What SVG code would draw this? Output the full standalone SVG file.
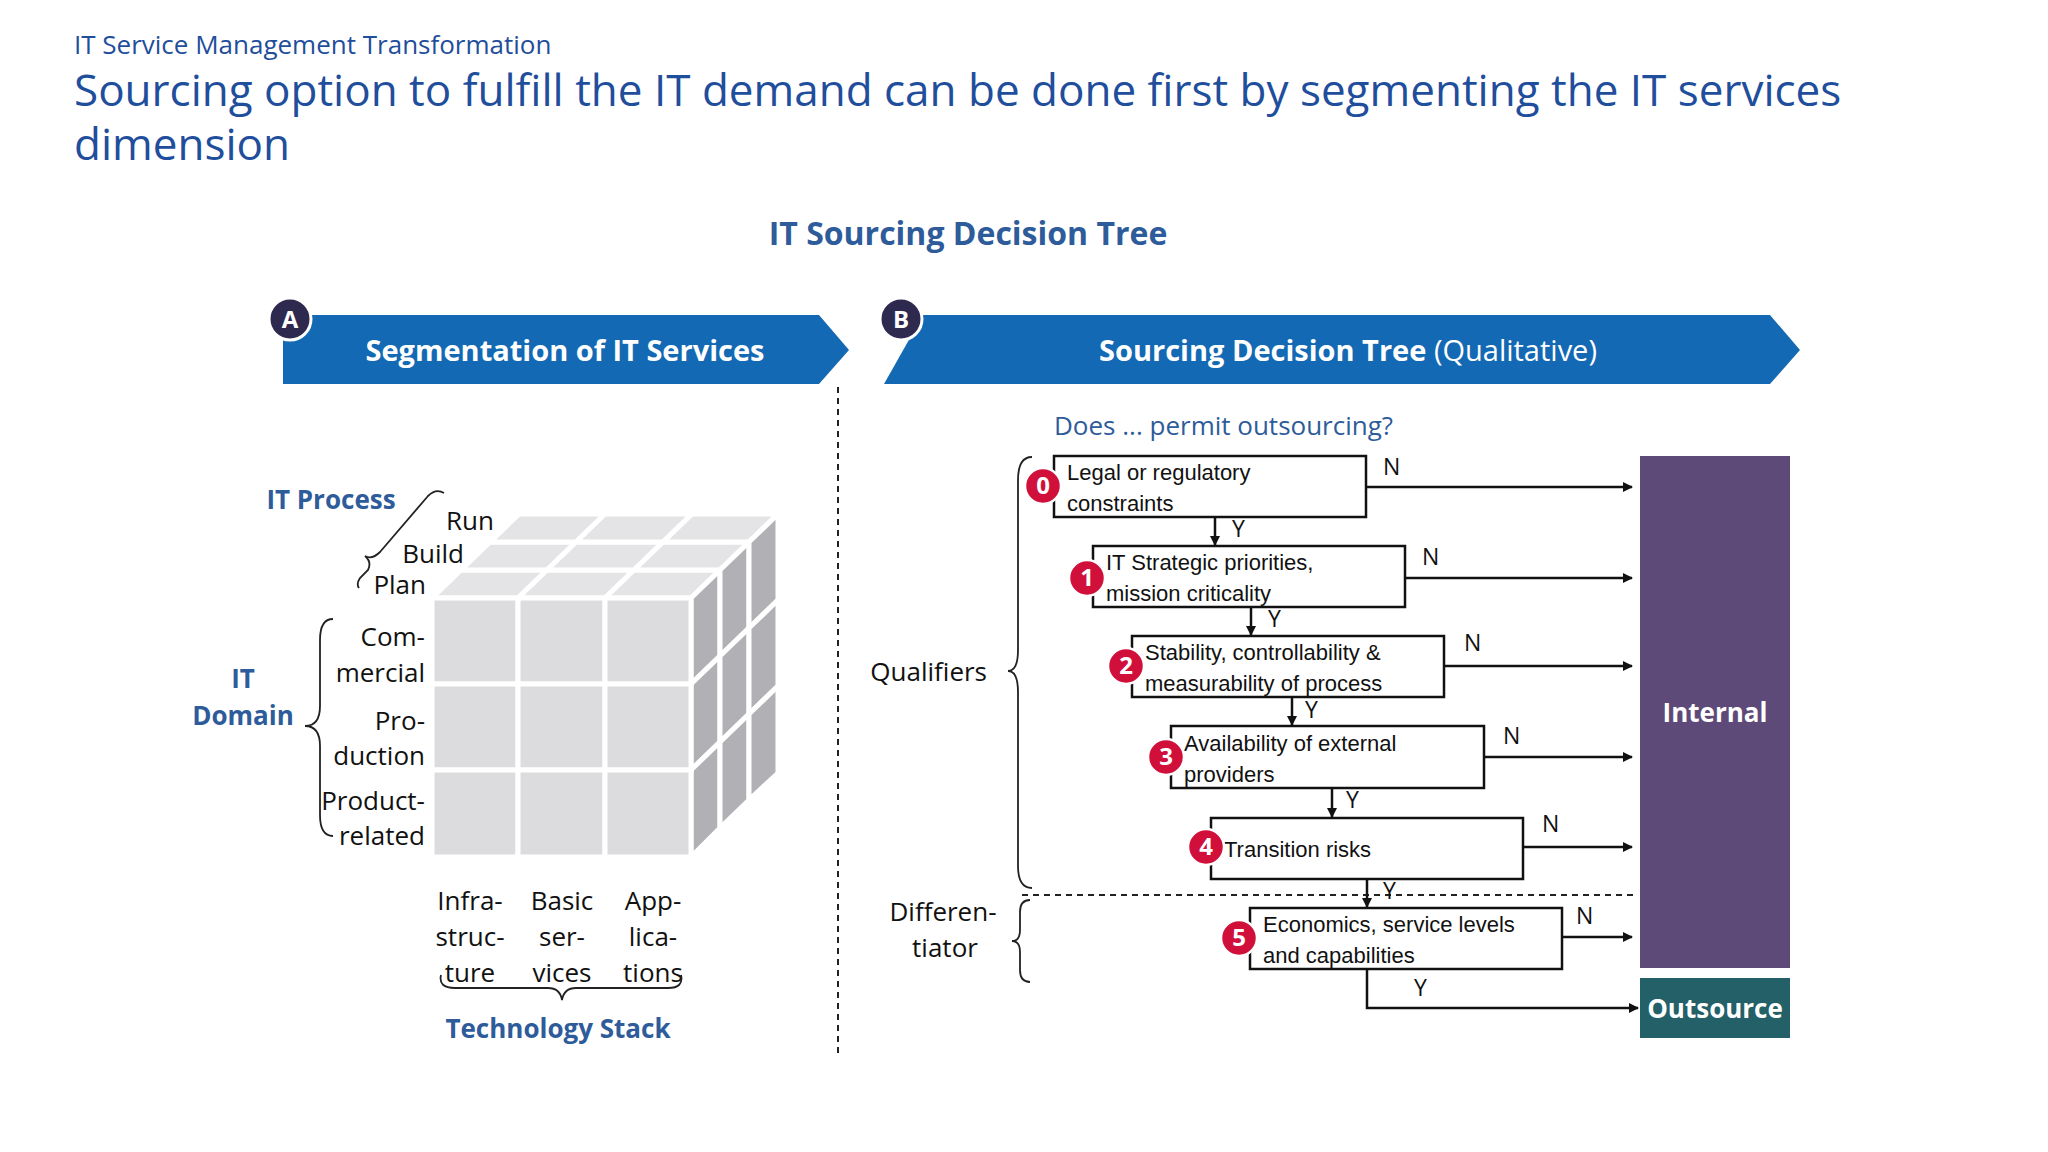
<svg xmlns="http://www.w3.org/2000/svg" width="2048" height="1152" viewBox="0 0 2048 1152">
<style>
text{font-family:"Open Sans","Liberation Sans",sans-serif}
.blue{fill:#1f4e9c}
.lab{fill:#2e5c9a;font-weight:bold;font-size:26px}
.blk{fill:#111;font-size:26px}
.bx{fill:#fff;stroke:#111;stroke-width:2.5}
.bt{fill:#111;font-size:22px;font-family:"Liberation Sans",sans-serif}
.ln{stroke:#111;stroke-width:2.5;fill:none}
.br{stroke:#222;stroke-width:1.8;fill:none}
.bd{fill:#d0103a;stroke:#fff;stroke-width:2.5}
.bdt{fill:#fff;font-weight:bold;font-size:24px;text-anchor:middle}
.f{fill:#dcdcdf;stroke:#fff;stroke-width:5}
.t{fill:#e4e4e7;stroke:#fff;stroke-width:5}
.s{fill:#b1b1b5;stroke:#fff;stroke-width:5}
.yn{fill:#111;font-size:23px}
</style>
<defs><marker id="ah" markerWidth="10" markerHeight="10" refX="9" refY="5" orient="auto" markerUnits="userSpaceOnUse"><path d="M0,0 L10,5 L0,10 z" fill="#111"/></marker></defs>
<rect width="2048" height="1152" fill="#fff"/>
<text x="74" y="54" class="blue" font-size="26">IT Service Management Transformation</text>
<text x="74" y="106" class="blue" font-size="44">Sourcing option to fulfill the IT demand can be done first by segmenting the IT services</text>
<text x="74" y="160" class="blue" font-size="44">dimension</text>
<text x="968" y="245" text-anchor="middle" font-size="32" font-weight="bold" fill="#2e5c9a">IT Sourcing Decision Tree</text>

<g id="bannerA">
<polygon points="283,315 819,315 849,350 819,384 283,384" fill="#1369b3"/>
<text x="565" y="361" text-anchor="middle" fill="#fff" font-weight="bold" font-size="29">Segmentation of IT Services</text>
<circle cx="290" cy="319" r="21" fill="#2e2a4f" stroke="#fff" stroke-width="3"/>
<text x="290" y="328" text-anchor="middle" fill="#fff" font-weight="bold" font-size="24">A</text>
</g>
<g id="bannerB">
<polygon points="923,315 1770,315 1800,350 1770,384 884,384" fill="#1369b3"/>
<text x="1348" y="361" text-anchor="middle" fill="#fff" font-size="29"><tspan font-weight="bold">Sourcing Decision Tree</tspan> (Qualitative)</text>
<circle cx="901" cy="319" r="21" fill="#2e2a4f" stroke="#fff" stroke-width="3"/>
<text x="901" y="328" text-anchor="middle" fill="#fff" font-weight="bold" font-size="24">B</text>
</g>
<line x1="838" y1="387" x2="838" y2="1058" stroke="#222" stroke-width="2" stroke-dasharray="6,5"/>

<g id="cube">
<polygon class="t" points="432,598 518,598 547,570 461,570"/>
<polygon class="t" points="518,598 605,598 634,570 547,570"/>
<polygon class="t" points="605,598 691,598 720,570 634,570"/>
<polygon class="t" points="461,570 547,570 576,542 490,542"/>
<polygon class="t" points="547,570 634,570 663,542 576,542"/>
<polygon class="t" points="634,570 720,570 749,542 663,542"/>
<polygon class="t" points="490,542 576,542 605,514 519,514"/>
<polygon class="t" points="576,542 663,542 692,514 605,514"/>
<polygon class="t" points="663,542 749,542 778,514 692,514"/>
<polygon class="s" points="691,598 720,570 720,656 691,684"/>
<polygon class="s" points="720,570 749,542 749,628 720,656"/>
<polygon class="s" points="749,542 778,514 778,600 749,628"/>
<polygon class="s" points="691,684 720,656 720,742 691,770"/>
<polygon class="s" points="720,656 749,628 749,714 720,742"/>
<polygon class="s" points="749,628 778,600 778,686 749,714"/>
<polygon class="s" points="691,770 720,742 720,828 691,857"/>
<polygon class="s" points="720,742 749,714 749,800 720,828"/>
<polygon class="s" points="749,714 778,686 778,773 749,800"/>
<rect class="f" x="432" y="598" width="86" height="86"/><rect class="f" x="518" y="598" width="87" height="86"/><rect class="f" x="605" y="598" width="86" height="86"/>
<rect class="f" x="432" y="684" width="86" height="86"/><rect class="f" x="518" y="684" width="87" height="86"/><rect class="f" x="605" y="684" width="86" height="86"/>
<rect class="f" x="432" y="770" width="86" height="87"/><rect class="f" x="518" y="770" width="87" height="87"/><rect class="f" x="605" y="770" width="86" height="87"/>
</g>
<g id="segLabels">
<text x="331" y="509" text-anchor="middle" class="lab">IT Process</text>
<path class="br" d="M444,493 Q436,488 428,496 L380,552 Q372,560 365,556 Q372,562 368,570 L360,578 Q356,584 359,588"/>
<text x="494" y="530" text-anchor="end" class="blk">Run</text>
<text x="464" y="563" text-anchor="end" class="blk">Build</text>
<text x="426" y="594" text-anchor="end" class="blk">Plan</text>
<text x="243" y="688" text-anchor="middle" class="lab">IT</text>
<text x="243" y="725" text-anchor="middle" class="lab">Domain</text>
<path class="br" d="M333,619 Q320,619 320,640 L320,706 Q320,726 305,726 Q320,726 320,746 L320,815 Q320,836 333,836"/>
<text x="425" y="646" text-anchor="end" class="blk">Com-</text>
<text x="425" y="682" text-anchor="end" class="blk">mercial</text>
<text x="425" y="730" text-anchor="end" class="blk">Pro-</text>
<text x="425" y="765" text-anchor="end" class="blk">duction</text>
<text x="425" y="810" text-anchor="end" class="blk">Product-</text>
<text x="425" y="845" text-anchor="end" class="blk">related</text>
<g text-anchor="middle" class="blk">
<text x="470" y="910">Infra-</text><text x="470" y="946">struc-</text><text x="470" y="982">ture</text>
<text x="562" y="910">Basic</text><text x="562" y="946">ser-</text><text x="562" y="982">vices</text>
<text x="653" y="910">App-</text><text x="653" y="946">lica-</text><text x="653" y="982">tions</text>
</g>
<path class="br" d="M441,975 Q438,988 455,988 L548,988 Q560,988 562,1000 Q564,988 576,988 L668,988 Q684,988 681,975"/>
<text x="558" y="1038" text-anchor="middle" class="lab">Technology Stack</text>
</g>

<text x="1054" y="435" font-size="26" fill="#2e5c9a">Does ... permit outsourcing?</text>
<text x="987" y="681" text-anchor="end" class="blk">Qualifiers</text>
<path class="br" d="M1032,457 Q1018,457 1018,480 L1018,650 Q1018,671 1008,671 Q1018,671 1018,692 L1018,866 Q1018,888 1032,888"/>
<text x="943" y="921" text-anchor="middle" class="blk">Differen-</text>
<text x="945" y="957" text-anchor="middle" class="blk">tiator</text>
<path class="br" d="M1030,900 Q1020,900 1020,912 L1020,930 Q1020,941 1012,941 Q1020,941 1020,952 L1020,970 Q1020,982 1030,982"/>
<line x1="1022" y1="895" x2="1638" y2="895" stroke="#222" stroke-width="2" stroke-dasharray="6,5"/>

<g id="outcomes">
<rect x="1640" y="456" width="150" height="512" fill="#5e4a78"/>
<text x="1715" y="722" text-anchor="middle" fill="#fff" font-weight="bold" font-size="26">Internal</text>
<rect x="1640" y="978" width="150" height="60" fill="#236068"/>
<text x="1715" y="1018" text-anchor="middle" fill="#fff" font-weight="bold" font-size="26">Outsource</text>
</g>

<g id="connectors">
<line class="ln" x1="1366" y1="487" x2="1632" y2="487" marker-end="url(#ah)"/>
<line class="ln" x1="1405" y1="578" x2="1632" y2="578" marker-end="url(#ah)"/>
<line class="ln" x1="1444" y1="666" x2="1632" y2="666" marker-end="url(#ah)"/>
<line class="ln" x1="1484" y1="757" x2="1632" y2="757" marker-end="url(#ah)"/>
<line class="ln" x1="1523" y1="847" x2="1632" y2="847" marker-end="url(#ah)"/>
<line class="ln" x1="1562" y1="937" x2="1632" y2="937" marker-end="url(#ah)"/>
<line class="ln" x1="1215" y1="517" x2="1215" y2="545" marker-end="url(#ah)"/>
<line class="ln" x1="1251" y1="607" x2="1251" y2="635" marker-end="url(#ah)"/>
<line class="ln" x1="1292" y1="697" x2="1292" y2="725" marker-end="url(#ah)"/>
<line class="ln" x1="1332" y1="788" x2="1332" y2="817" marker-end="url(#ah)"/>
<line class="ln" x1="1367" y1="879" x2="1367" y2="907" marker-end="url(#ah)"/>
<polyline class="ln" points="1367,969 1367,1008 1638,1008" marker-end="url(#ah)"/>
<g class="yn">
<text x="1383" y="475">N</text><text x="1422" y="565">N</text><text x="1464" y="651">N</text><text x="1503" y="744">N</text><text x="1542" y="832">N</text><text x="1576" y="924">N</text>
<text x="1232" y="537">Y</text><text x="1268" y="627">Y</text><text x="1305" y="718">Y</text><text x="1346" y="808">Y</text><text x="1383" y="899">Y</text><text x="1414" y="996">Y</text>
</g>
</g>

<g id="n0"><rect class="bx" x="1054" y="456" width="312" height="61"/><text class="bt" x="1067" y="480">Legal or regulatory</text><text class="bt" x="1067" y="511">constraints</text><circle class="bd" cx="1043" cy="486" r="18"/><text class="bdt" x="1043" y="494">0</text></g>
<g id="n1"><rect class="bx" x="1093" y="546" width="312" height="61"/><text class="bt" x="1106" y="570">IT Strategic priorities,</text><text class="bt" x="1106" y="601">mission criticality</text><circle class="bd" cx="1087" cy="578" r="18"/><text class="bdt" x="1087" y="586">1</text></g>
<g id="n2"><rect class="bx" x="1132" y="636" width="312" height="61"/><text class="bt" x="1145" y="660">Stability, controllability &amp;</text><text class="bt" x="1145" y="691">measurability of process</text><circle class="bd" cx="1126" cy="666" r="18"/><text class="bdt" x="1126" y="674">2</text></g>
<g id="n3"><rect class="bx" x="1171" y="726" width="313" height="62"/><text class="bt" x="1184" y="751">Availability of external</text><text class="bt" x="1184" y="782">providers</text><circle class="bd" cx="1166" cy="757" r="18"/><text class="bdt" x="1166" y="765">3</text></g>
<g id="n4"><rect class="bx" x="1211" y="818" width="312" height="61"/><text class="bt" x="1224" y="857">Transition risks</text><circle class="bd" cx="1206" cy="847" r="18"/><text class="bdt" x="1206" y="855">4</text></g>
<g id="n5"><rect class="bx" x="1250" y="908" width="312" height="61"/><text class="bt" x="1263" y="932">Economics, service levels</text><text class="bt" x="1263" y="963">and capabilities</text><circle class="bd" cx="1239" cy="938" r="18"/><text class="bdt" x="1239" y="946">5</text></g>
</svg>
